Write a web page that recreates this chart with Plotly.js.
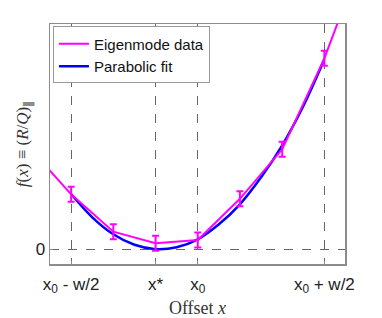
<!DOCTYPE html>
<html>
<head>
<meta charset="utf-8">
<script src="https://cdn.plot.ly/plotly-3.0.1.min.js"></script>
<style>html,body{margin:0;padding:0;background:#fff}#chart{width:382px;height:318px}</style>
</head>
<body>
<div id="chart"></div>
<script>
// Eigenmode data (offset in units of w/2 relative to x0)
const dataX = [-1.333, -1, -0.667, -0.333, 0, 0.333, 0.667, 1, 1.333];
const dataY = [1.02, 0.55, 0.176, 0.06, 0.093, 0.505, 1.0, 1.91, 3.03];
const dataErr = [0.075, 0.075, 0.075, 0.075, 0.075, 0.075, 0.075, 0.075, 0.075];

// Parabolic fit
const fitX = [-1, -0.833, -0.667, -0.5, -0.333, -0.167, 0, 0.167, 0.333, 0.5, 0.667, 0.833, 1];
const fitY = [0.553, 0.32, 0.15, 0.045, 0.001, 0.02, 0.10, 0.25, 0.45, 0.72, 1.04, 1.43, 1.90];

// Tick labels
const xTickVals = [-1, -0.333, 0, 1];
const xTickText = ['x<sub>0</sub> - w/2', 'x*', 'x<sub>0</sub>', 'x<sub>0</sub> + w/2'];
const yTickVals = [0];
const yTickText = ['0'];

const sans = 'Liberation Sans, Arial, sans-serif';
const serif = 'Liberation Serif, Times New Roman, serif';

const traces = [
  {
    x: dataX, y: dataY, type: 'scatter', mode: 'lines', name: 'Eigenmode data',
    line: {color: '#ff00ff', width: 2},
    error_y: {type: 'data', array: dataErr, visible: true, color: '#ff00ff', thickness: 2, width: 3.5}
  },
  {
    x: fitX, y: fitY, type: 'scatter', mode: 'lines', name: 'Parabolic fit',
    line: {color: '#0000ff', width: 2.5, shape: 'spline'}
  }
];
// draw magenta on top of blue
const ordered = [traces[1], traces[0]];

const layout = {
  width: 382, height: 318,
  margin: {l: 50, r: 37, t: 24, b: 54},
  paper_bgcolor: '#fff', plot_bgcolor: '#fff',
  showlegend: true,
  legend: {
    x: 0.01, y: 0.99, xanchor: 'left', yanchor: 'top',
    bgcolor: '#fff', bordercolor: '#999', borderwidth: 1,
    font: {family: sans, size: 15, color: '#111'},
    traceorder: 'reversed', itemwidth: 30, tracegroupgap: 0
  },
  xaxis: {
    range: [-1.167, 1.163],
    tickvals: xTickVals, ticktext: xTickText,
    tickfont: {family: sans, size: 17, color: '#222'},
    ticklabelstandoff: 4,
    showgrid: true, gridcolor: '#666', griddash: 'dash', gridwidth: 1,
    zeroline: false,
    showline: true, mirror: true, linecolor: '#8c8c8c', linewidth: 1.5,
    ticks: 'inside', ticklen: 3, tickcolor: '#8c8c8c',
    title: {text: 'Offset <i>x</i>', font: {family: serif, size: 18, color: '#333'}, standoff: 10}
  },
  yaxis: {
    range: [-0.147, 2.253],
    tickvals: yTickVals, ticktext: yTickText,
    tickfont: {family: sans, size: 17, color: '#222'},
    showgrid: true, gridcolor: '#666', griddash: 'dash', gridwidth: 1,
    zeroline: false,
    showline: true, mirror: true, linecolor: '#8c8c8c', linewidth: 1.5,
    ticks: 'inside', ticklen: 3, tickcolor: '#8c8c8c',
    title: {text: '<i>f</i>(<i>x</i>) ≡ (<i>R</i>/<i>Q</i>)<sub>∥</sub>', font: {family: serif, size: 17, color: '#333'}, standoff: 2}
  }
};

Plotly.newPlot('chart', ordered, layout, {displayModeBar: false, staticPlot: true});
</script>
</body>
</html>
